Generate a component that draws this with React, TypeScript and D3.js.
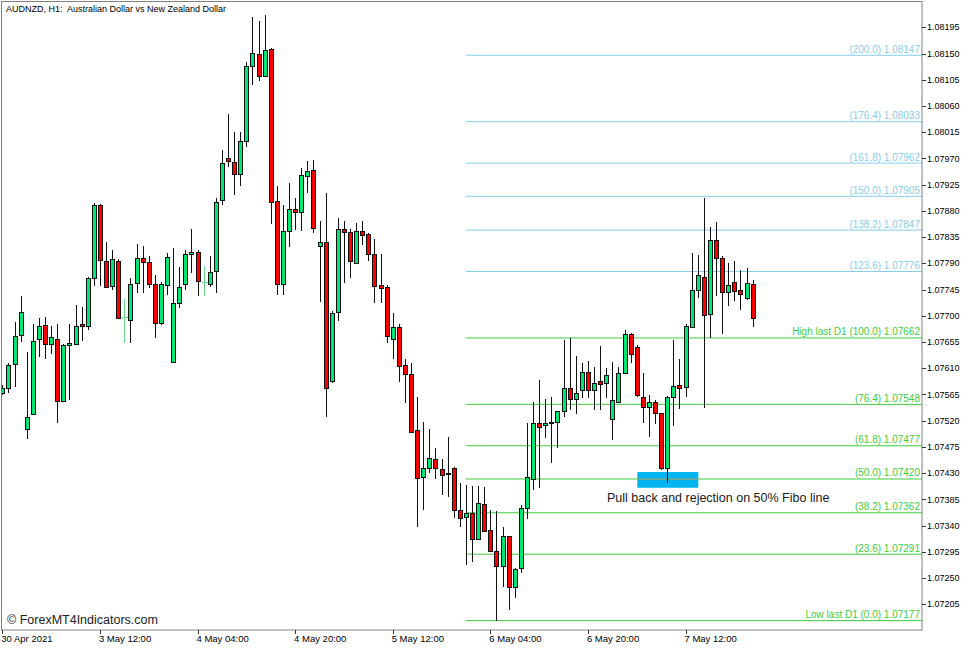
import * as d3 from "d3";

// AUDNZD H1, 30 Apr 2021 20:00 onward, one entry per bar
const OPEN = [
  1.07567, 1.07576, 1.07617, 1.07667, 1.07506, 1.07531, 1.07660, 1.07684, 1.07652, 1.07660,
  1.07554, 1.07650, 1.07652, 1.07686, 1.07682, 1.07765, 1.07890, 1.07794, 1.07751, 1.07794,
  1.07698, 1.07693, 1.07756, 1.07799, 1.07792, 1.07755, 1.07688, 1.07753, 1.07621, 1.07722,
  1.07755, 1.07806, 1.07809, 1.07758, 1.07755, 1.07777, 1.07899, 1.07971, 1.07964, 1.07943,
  1.08000, 1.08129, 1.08149, 1.08111, 1.08158, 1.07897, 1.07755, 1.07845, 1.07883, 1.07878,
  1.07940, 1.07950, 1.07820, 1.07827, 1.07588, 1.07706, 1.07849, 1.07844, 1.07791, 1.07845,
  1.07840, 1.07806, 1.07753, 1.07749, 1.07660, 1.07681, 1.07616, 1.07600, 1.07504, 1.07423,
  1.07439, 1.07454, 1.07437, 1.07430, 1.07439, 1.07367, 1.07355, 1.07362, 1.07317, 1.07377,
  1.07332, 1.07296, 1.07271, 1.07322, 1.07235, 1.07267, 1.07370, 1.07420, 1.07516, 1.07513,
  1.07516, 1.07518, 1.07537, 1.07576, 1.07557, 1.07573, 1.07604, 1.07573, 1.07588, 1.07585,
  1.07523, 1.07552, 1.07602, 1.07669, 1.07646, 1.07561, 1.07543, 1.07552, 1.07533, 1.07439,
  1.07561, 1.07581, 1.07578, 1.07681, 1.07744, 1.07767, 1.07703, 1.07830, 1.07799, 1.07741,
  1.07758, 1.07744, 1.07730, 1.07755,
];
const HIGH = [
  1.07581, 1.07619, 1.07689, 1.07734, 1.07638, 1.07686, 1.07696, 1.07698, 1.07682, 1.07686,
  1.07652, 1.07686, 1.07718, 1.07715, 1.07767, 1.07893, 1.07892, 1.07827, 1.07813, 1.07797,
  1.07729, 1.07765, 1.07823, 1.07820, 1.07803, 1.07770, 1.07758, 1.07808, 1.07816, 1.07784,
  1.07813, 1.07849, 1.07813, 1.07785, 1.07803, 1.07902, 1.07984, 1.08046, 1.08015, 1.08015,
  1.08135, 1.08213, 1.08206, 1.08216, 1.08159, 1.07923, 1.07890, 1.07928, 1.07902, 1.07954,
  1.07966, 1.07967, 1.07863, 1.07911, 1.07708, 1.07868, 1.07863, 1.07849, 1.07859, 1.07863,
  1.07842, 1.07832, 1.07806, 1.07753, 1.07705, 1.07686, 1.07626, 1.07619, 1.07561, 1.07518,
  1.07506, 1.07473, 1.07454, 1.07492, 1.07440, 1.07413, 1.07410, 1.07408, 1.07408, 1.07406,
  1.07367, 1.07365, 1.07338, 1.07323, 1.07267, 1.07375, 1.07516, 1.07552, 1.07590, 1.07557,
  1.07561, 1.07537, 1.07658, 1.07662, 1.07631, 1.07619, 1.07622, 1.07612, 1.07648, 1.07610,
  1.07621, 1.07612, 1.07676, 1.07670, 1.07650, 1.07602, 1.07564, 1.07555, 1.07534, 1.07562,
  1.07658, 1.07626, 1.07686, 1.07808, 1.07804, 1.07902, 1.07852, 1.07861, 1.07803, 1.07791,
  1.07794, 1.07779, 1.07782, 1.07761,
];
const LOW = [
  1.07564, 1.07567, 1.07578, 1.07655, 1.07489, 1.07529, 1.07629, 1.07626, 1.07634, 1.07516,
  1.07552, 1.07555, 1.07650, 1.07657, 1.07676, 1.07751, 1.07751, 1.07748, 1.07744, 1.07694,
  1.07653, 1.07653, 1.07739, 1.07739, 1.07748, 1.07662, 1.07684, 1.07736, 1.07620, 1.07713,
  1.07744, 1.07773, 1.07734, 1.07734, 1.07749, 1.07739, 1.07890, 1.07955, 1.07907, 1.07923,
  1.07990, 1.08096, 1.08103, 1.08110, 1.07857, 1.07736, 1.07736, 1.07818, 1.07847, 1.07845,
  1.07911, 1.07842, 1.07724, 1.07526, 1.07585, 1.07691, 1.07756, 1.07765, 1.07790, 1.07821,
  1.07794, 1.07722, 1.07722, 1.07653, 1.07626, 1.07586, 1.07550, 1.07499, 1.07338, 1.07367,
  1.07430, 1.07420, 1.07392, 1.07389, 1.07353, 1.07338, 1.07272, 1.07278, 1.07316, 1.07330,
  1.07295, 1.07177, 1.07235, 1.07195, 1.07216, 1.07259, 1.07351, 1.07401, 1.07404, 1.07490,
  1.07447, 1.07473, 1.07526, 1.07538, 1.07531, 1.07559, 1.07559, 1.07538, 1.07538, 1.07559,
  1.07487, 1.07551, 1.07601, 1.07619, 1.07561, 1.07516, 1.07492, 1.07514, 1.07435, 1.07413,
  1.07511, 1.07540, 1.07561, 1.07680, 1.07730, 1.07542, 1.07662, 1.07734, 1.07669, 1.07717,
  1.07725, 1.07710, 1.07727, 1.07681,
];
const CLOSE = [
  1.07576, 1.07616, 1.07665, 1.07706, 1.07526, 1.07657, 1.07682, 1.07652, 1.07664, 1.07554,
  1.07650, 1.07653, 1.07682, 1.07682, 1.07765, 1.07890, 1.07796, 1.07749, 1.07797, 1.07696,
  1.07698, 1.07755, 1.07799, 1.07792, 1.07755, 1.07688, 1.07755, 1.07801, 1.07722, 1.07749,
  1.07806, 1.07809, 1.07760, 1.07758, 1.07775, 1.07895, 1.07962, 1.07966, 1.07943, 1.08000,
  1.08129, 1.08151, 1.08111, 1.08156, 1.07895, 1.07755, 1.07845, 1.07883, 1.07878, 1.07942,
  1.07948, 1.07851, 1.07827, 1.07576, 1.07705, 1.07849, 1.07844, 1.07794, 1.07845, 1.07839,
  1.07806, 1.07751, 1.07748, 1.07665, 1.07681, 1.07614, 1.07600, 1.07501, 1.07422, 1.07439,
  1.07456, 1.07439, 1.07427, 1.07429, 1.07367, 1.07353, 1.07362, 1.07317, 1.07379, 1.07331,
  1.07296, 1.07271, 1.07322, 1.07235, 1.07266, 1.07370, 1.07423, 1.07516, 1.07509, 1.07516,
  1.07517, 1.07537, 1.07576, 1.07557, 1.07567, 1.07604, 1.07573, 1.07585, 1.07583, 1.07598,
  1.07555, 1.07602, 1.07669, 1.07634, 1.07564, 1.07543, 1.07552, 1.07533, 1.07439, 1.07561,
  1.07580, 1.07576, 1.07682, 1.07744, 1.07770, 1.07701, 1.07830, 1.07799, 1.07741, 1.07753,
  1.07742, 1.07737, 1.07756, 1.07696,
];

const PRICE_TICKS = [
  1.08195, 1.0815, 1.08105, 1.0806, 1.08015, 1.0797, 1.07925, 1.0788, 1.07835, 1.0779,
  1.07745, 1.077, 1.07655, 1.0761, 1.07565, 1.0752, 1.07475, 1.0743, 1.07385, 1.0734,
  1.07295, 1.0725, 1.07205,
];
const TIME_TICK_BARS = [0, 16, 32, 48, 64, 80, 96, 112];
const TIME_TICK_LABELS = [
  "30 Apr 2021", "3 May 12:00", "4 May 04:00", "4 May 20:00",
  "5 May 12:00", "6 May 04:00", "6 May 20:00", "7 May 12:00",
];

// Fibonacci on the 6 May D1 range, anchored at the first bar of that day
const FIB_START_BAR = 76;
const FIB_RATIOS = [200.0, 176.4, 161.8, 150.0, 138.2, 123.6, 100.0, 76.4, 61.8, 50.0, 38.2, 23.6, 0.0];
const FIB_PRICES = [
  1.08147, 1.08033, 1.07962, 1.07905, 1.07847, 1.07776, 1.07662,
  1.07548, 1.07477, 1.0742, 1.07362, 1.07291, 1.07177,
];

// highlight box around the 50% rejection (bars, prices: top / fib line / bottom)
const BOX_BARS = [104.1, 114.1];
const BOX_PRICES = [1.07432, 1.0742, 1.07405];

const W = 977, H = 650;
const PL = 2, PT = 2, PR = 922, PB = 630;
const FONT = "'Liberation Sans', Arial, sans-serif";

export default function App() {
  const x = d3.scaleLinear().domain([0, 123]).range([2.3, 752.6]);
  const y = d3.scaleLinear().domain([1.07205, 1.08195]).range([604.3, 27.3]);
  const fmt = d3.format(".5f");
  const snap = (v: number) => Math.round(v) + 0.5;

  return (
    <div style={{ position: "absolute", left: 0, top: 0, width: W, height: H, background: "#fff" }}>
      <svg width={W} height={H} style={{ display: "block" }} fontFamily={FONT}>
        <defs>
          <clipPath id="plot">
            <rect x={PL} y={PT} width={PR - PL} height={PB - PT} />
          </clipPath>
        </defs>
        <rect width={W} height={H} fill="#fff" />

        <g clipPath="url(#plot)">
          {/* fib levels */}
          {FIB_PRICES.map((p, i) => {
            const r = FIB_RATIOS[i];
            const col = r > 100 ? "#87cdea" : "#3ccc3c";
            const yy = y(p);
            const pre = r === 100 ? "High last D1 " : r === 0 ? "Low last D1 " : "";
            return (
              <g key={i}>
                <line x1={x(FIB_START_BAR)} x2={PR} y1={yy} y2={yy} stroke={col} strokeWidth={1} />
                <text x={PR - 2} y={yy - 2.5} textAnchor="end" fontSize={10} fill={col}>
                  {`${pre}(${r.toFixed(1)}) ${fmt(p)}`}
                </text>
              </g>
            );
          })}

          {/* highlight rectangle */}
          <rect
            x={x(BOX_BARS[0])}
            width={x(BOX_BARS[1]) - x(BOX_BARS[0])}
            y={y(BOX_PRICES[0])}
            height={y(BOX_PRICES[2]) - y(BOX_PRICES[0])}
            fill="#00b4f0"
          />
          <line
            x1={x(BOX_BARS[0])}
            x2={x(BOX_BARS[1])}
            y1={y(BOX_PRICES[1])}
            y2={y(BOX_PRICES[1])}
            stroke="#c69a5a"
            strokeWidth={1}
          />

          {/* candles */}
          <g shapeRendering="crispEdges">
            {OPEN.map((o, i) => {
              const c = CLOSE[i];
              const cx = snap(x(i));
              const yh = y(HIGH[i]), yl = y(LOW[i]);
              if (o === c) {
                const yc = Math.round(y(o)) + 0.5;
                return (
                  <g key={i} stroke="#62d98c">
                    <line x1={cx} x2={cx} y1={yh} y2={yl} />
                    <line x1={cx - 3} x2={cx + 3} y1={yc} y2={yc} />
                  </g>
                );
              }
              const top = Math.round(y(Math.max(o, c))) + 0.5;
              const bot = Math.round(y(Math.min(o, c))) + 0.5;
              return (
                <g key={i}>
                  <line x1={cx} x2={cx} y1={yh} y2={yl} stroke="#111" />
                  <rect
                    x={cx - 2}
                    y={top}
                    width={4}
                    height={Math.max(bot - top, 0)}
                    fill={c > o ? "#00e676" : "#ff0000"}
                    stroke="#111"
                  />
                </g>
              );
            })}
          </g>

          <text x={607} y={502} fontSize={12.5} fill="#1a1a1a">
            Pull back and rejection on 50% Fibo line
          </text>

          <text x={7} y={624} fontSize={12.5} fill="#222">
            © ForexMT4Indicators.com
          </text>
        </g>

        {/* frame */}
        <rect x={1.5} y={1.5} width={PR - 1.5} height={PB - 1.5} fill="none" stroke="#808080" strokeWidth={1} />

        {/* title */}
        <text x={6} y={12} fontSize={9} fill="#000" style={{ whiteSpace: "pre" }}>
          {"AUDNZD, H1:  Australian Dollar vs New Zealand Dollar"}
        </text>

        {/* price axis */}
        <g shapeRendering="crispEdges">
          {PRICE_TICKS.map((p) => (
            <line key={p} x1={PR} x2={PR + 4} y1={snap(y(p))} y2={snap(y(p))} stroke="#333" />
          ))}
        </g>
        {PRICE_TICKS.map((p) => (
          <text key={p} x={PR + 5} y={y(p)} dy="0.35em" fontSize={9} fill="#000">
            {fmt(p)}
          </text>
        ))}

        {/* time axis */}
        <g shapeRendering="crispEdges">
          {TIME_TICK_BARS.map((b) => (
            <line key={b} x1={snap(x(b))} x2={snap(x(b))} y1={PB} y2={PB + 4} stroke="#333" />
          ))}
        </g>
        {TIME_TICK_BARS.map((b, i) => (
          <text key={b} x={Math.max(x(b) - 1, 1)} y={642} fontSize={9.5} fill="#000">
            {TIME_TICK_LABELS[i]}
          </text>
        ))}
      </svg>
    </div>
  );
}
